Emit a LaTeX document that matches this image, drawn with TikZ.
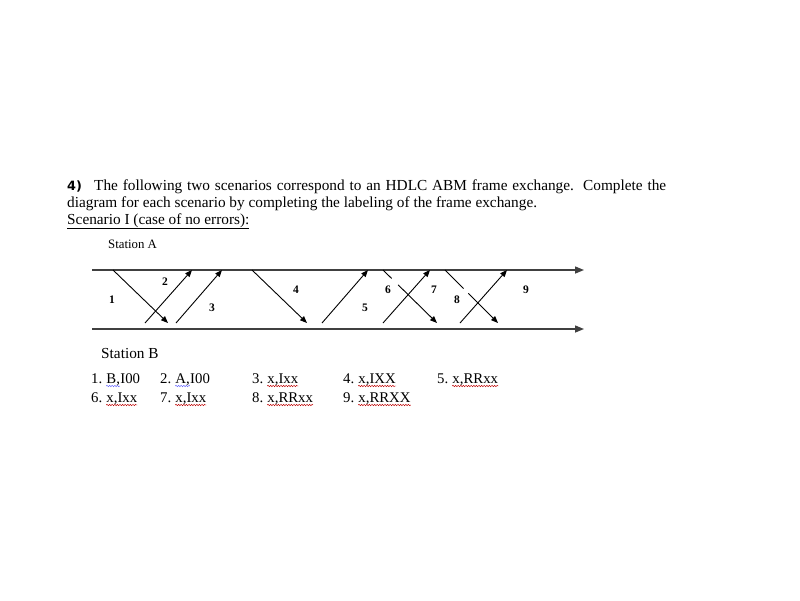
\documentclass[tikz,border=0pt]{standalone}
\usepackage{fontspec}
\setmainfont{Liberation Serif}
\newfontfamily\headsans{DejaVu Sans}
\usetikzlibrary{arrows.meta,calc,decorations.pathmorphing}
\tikzset{
  lbl/.style={font=\fontsize{11.5}{12}\selectfont\bfseries, inner sep=0},
  txt/.style={font=\fontsize{15.3}{17}\selectfont, inner sep=0, anchor=base west},
  itm/.style={font=\fontsize{14.8}{17}\selectfont, inner sep=0, anchor=base west},
  msg/.style={line width=0.9pt, -{Triangle[length=7pt,width=5.5pt]}},
  msgnohead/.style={line width=0.9pt},
  axisline/.style={line width=1.4pt, draw=black!75, -{Triangle[length=9pt,width=7pt]}},
  wavyred/.style={draw=red!75!black, line width=0.45pt, decorate, decoration={snake, amplitude=0.7pt, segment length=2.6pt}},
  wavyblue/.style={draw=blue!60, line width=0.45pt, decorate, decoration={snake, amplitude=0.7pt, segment length=2.6pt}},
}
\begin{document}
\begin{tikzpicture}[x=1pt,y=-1pt]
\useasboundingbox[fill=white] (0,0) rectangle (800,600);
% header text
\node[txt, font=\headsans\bfseries\fontsize{12.8}{14}\selectfont] (q) at (67,190) {4)};
\node[txt] (h1) at (94,190) {\makebox[572pt][s]{The following two scenarios correspond to an HDLC ABM frame exchange.\hspace{0.6em}Complete the}};
\node[txt] (h2) at (67,207) {diagram for each scenario by completing the labeling of the frame exchange.};
\node[txt] (h3) at (67,224) {\underline{Scenario I (case of no errors):}};
\node[txt, font=\fontsize{12.8}{14}\selectfont] (sa) at (108,248) {Station A};
\node[txt, font=\fontsize{15.3}{17}\selectfont] (sb) at (101,358) {Station B};
% time lines
\coordinate (tA0) at (92,270); \coordinate (tA1) at (584,270);
\coordinate (tB0) at (92,329); \coordinate (tB1) at (584,329);
\draw[axisline] (tA0) -- (tA1);
\draw[axisline] (tB0) -- (tB1);
% frames
\coordinate (a1) at (113,270); \coordinate (b1) at (168,323);
\coordinate (a2) at (145,323); \coordinate (b2) at (192,270);
\coordinate (a3) at (176,323); \coordinate (b3) at (222,270);
\coordinate (a4) at (252,270); \coordinate (b4) at (307,323);
\coordinate (a5) at (322,323); \coordinate (b5) at (368,270);
\coordinate (a6) at (383,270); \coordinate (b6) at (437,323);
\coordinate (a7) at (383,323); \coordinate (b7) at (430,270);
\coordinate (a8) at (445,270); \coordinate (b8) at (498,323);
\coordinate (a9) at (460,323); \coordinate (b9) at (507,270);
\draw[msg] (a1) -- (b1);
\draw[msg] (a2) -- (b2);
\draw[msg] (a3) -- (b3);
\draw[msg] (a4) -- (b4);
\draw[msg] (a5) -- (b5);
\draw[msgnohead] (a6) -- ($(a6)!0.16!(b6)$);
\draw[msg] ($(a6)!0.28!(b6)$) -- (b6);
\draw[msg] (a7) -- (b7);
\draw[msgnohead] (a8) -- ($(a8)!0.35!(b8)$);
\draw[msg] ($(a8)!0.44!(b8)$) -- (b8);
\draw[msg] (a9) -- (b9);
% labels
\node[lbl] (l1) at (112,300) {1};
\node[lbl] (l2) at (165,282) {2};
\node[lbl] (l3) at (212,308) {3};
\node[lbl] (l4) at (296,290) {4};
\node[lbl] (l5) at (365,308) {5};
\node[lbl] (l6) at (388,290) {6};
\node[lbl] (l7) at (434,290) {7};
\node[lbl] (l8) at (457,300) {8};
\node[lbl] (l9) at (526,290) {9};
% answer list
\def\gap{3.7pt}
\node[itm] (n1) at (91,383) {1.};
\node[itm] (w1a) at ([xshift=\gap]n1.base east) {B,};
\node[itm] (w1b) at (w1a.base east) {I00};
\node[itm] (n2) at (160,383) {2.};
\node[itm] (w2a) at ([xshift=\gap]n2.base east) {A,};
\node[itm] (w2b) at (w2a.base east) {I00};
\node[itm] (n3) at (252,383) {3.};
\node[itm] (w3) at ([xshift=\gap]n3.base east) {x,Ixx};
\node[itm] (n4) at (343,383) {4.};
\node[itm] (w4) at ([xshift=\gap]n4.base east) {x,IXX};
\node[itm] (n5) at (437,383) {5.};
\node[itm] (w5) at ([xshift=\gap]n5.base east) {x,RRxx};
\node[itm] (n6) at (91,402) {6.};
\node[itm] (w6) at ([xshift=\gap]n6.base east) {x,Ixx};
\node[itm] (n7) at (160,402) {7.};
\node[itm] (w7) at ([xshift=\gap]n7.base east) {x,Ixx};
\node[itm] (n8) at (252,402) {8.};
\node[itm] (w8) at ([xshift=\gap]n8.base east) {x,RRxx};
\node[itm] (n9) at (343,402) {9.};
\node[itm] (w9) at ([xshift=\gap]n9.base east) {x,RRXX};
% spell-check underlines
\foreach \w in {w3,w4,w5,w6,w7,w8,w9}
  \draw[wavyred] ([yshift=-3pt]\w.base west) -- ([yshift=-3pt]\w.base east);
\foreach \w in {w1a,w2a}
  \draw[wavyblue] ([yshift=-3pt]\w.base west) -- ([yshift=-3pt]\w.base east);
\end{tikzpicture}
\end{document}
